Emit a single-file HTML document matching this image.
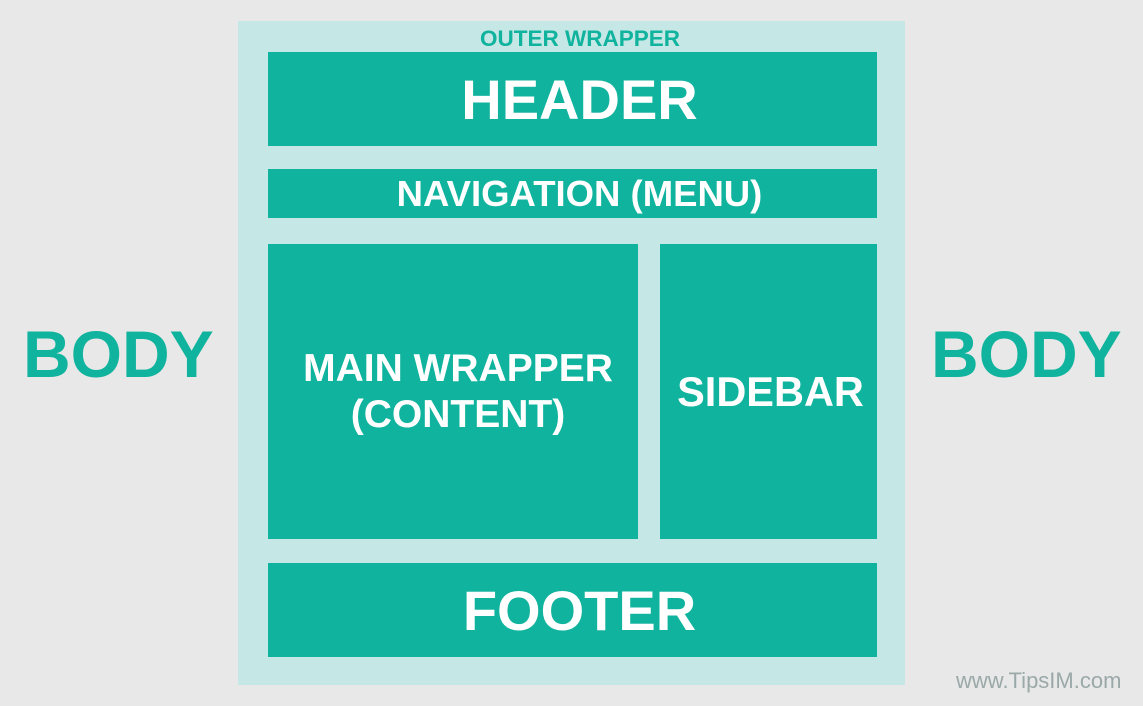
<!DOCTYPE html>
<html><head><style>
body{margin:0;width:1143px;height:706px;background:#e8e8e8;position:relative;overflow:hidden;font-family:"Liberation Sans",Arial,sans-serif;font-weight:bold}
div{position:absolute;box-sizing:border-box}
.b{background:#10b39d;color:#fff;display:flex;align-items:center;justify-content:center;text-align:center}
.t{color:#10b39d}
</style></head><body>
<div style="left:238px;top:21px;width:667px;height:664px;background:#c5e7e5"></div>
<div class="t" style="left:238px;top:26px;width:684px;text-align:center;font-size:22.5px">OUTER WRAPPER</div>
<div class="b" style="left:268px;top:52px;width:609px;height:94px;font-size:56px;padding-left:14px">HEADER</div>
<div class="b" style="left:268px;top:169px;width:609px;height:49px;font-size:36.5px;padding-left:14px">NAVIGATION (MENU)</div>
<div class="b" style="left:268px;top:244px;width:370px;height:295px;font-size:39px;line-height:46px;padding-left:10px">MAIN WRAPPER<br>(CONTENT)</div>
<div class="b" style="left:660px;top:244px;width:217px;height:295px;font-size:41.5px;padding-left:4px">SIDEBAR</div>
<div class="b" style="left:268px;top:563px;width:609px;height:94px;font-size:56px;padding-left:14px">FOOTER</div>
<div class="t" style="left:23px;top:316px;font-size:66px">BODY</div>
<div class="t" style="left:931px;top:316px;font-size:66px">BODY</div>
<div style="left:956px;top:668px;font-size:22px;font-weight:normal;color:#9aa9a8">www.TipsIM.com</div>
</body></html>
